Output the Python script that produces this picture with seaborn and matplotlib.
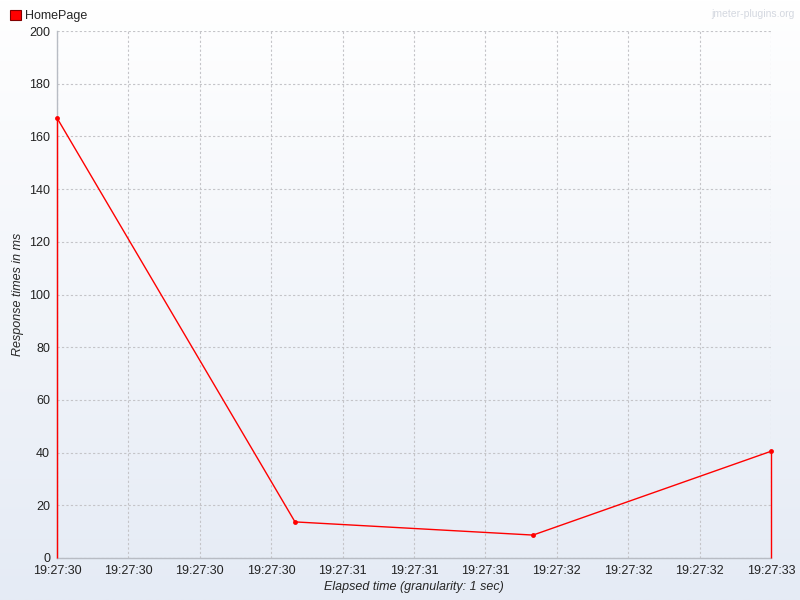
import numpy as np
import pandas as pd
import matplotlib
matplotlib.use('Agg')
import matplotlib.pyplot as plt
import seaborn as sns
from matplotlib.patches import Patch

# dane
seconds = [0, 1, 2, 3]
response_ms = [167, 13.7, 8.7, 40.5]
tick_pos = [0.0, 0.3, 0.6, 0.9, 1.2, 1.5, 1.8, 2.1, 2.4, 2.7, 3.0]
tick_labels = ['19:27:30', '19:27:30', '19:27:30', '19:27:30', '19:27:31', '19:27:31',
               '19:27:31', '19:27:32', '19:27:32', '19:27:32', '19:27:33']
label = 'HomePage'

df = pd.DataFrame({'t': seconds, 'ms': response_ms, 'label': label})

sns.set_style('white')
plt.rcParams['font.family'] = ['Liberation Sans', 'DejaVu Sans']
plt.rcParams['font.size'] = 9

fig = plt.figure(figsize=(8, 6), dpi=100)

# tlo z gradientem
bg = fig.add_axes([0, 0, 1, 1], zorder=-10)
grad = np.linspace(0, 1, 256).reshape(-1, 1)
top = np.array([1.0, 1.0, 1.0])
bottom = np.array([229, 235, 245]) / 255
img = top + (bottom - top) * grad[..., None]
bg.imshow(img, aspect='auto', extent=[0, 1, 0, 1])
bg.axis('off')

ax = fig.add_axes([0.07125, 0.07, 0.8925, 0.87833])
ax.patch.set_alpha(0)

sns.lineplot(data=df, x='t', y='ms', ax=ax, color='#ff0000', lw=1,
             marker='o', markersize=3.5, markeredgewidth=0, legend=False, clip_on=False, zorder=5)
# linie od osi do pierwszego i ostatniego punktu
ax.vlines([seconds[0], seconds[-1]], 0, [response_ms[0], response_ms[-1]], color='#ff0000', lw=1,
          clip_on=False, zorder=5)

ax.set_xlim(0, 3)
ax.set_ylim(0, 200)
ax.set_yticks(range(0, 201, 20))
ax.set_xticks(tick_pos)
ax.set_xticklabels(tick_labels)
ax.grid(True, color='#c4c4c8', ls=(0, (2, 2)), lw=0.8)
for s in ['top', 'right']:
    ax.spines[s].set_visible(False)
for s in ['left', 'bottom']:
    ax.spines[s].set_color('#b8bcc4')
    ax.spines[s].set_linewidth(1)
ax.tick_params(length=3, color='#b8bcc4', labelcolor='#222222', labelsize=9, pad=2)
ax.set_xlabel('Elapsed time (granularity: 1 sec)', style='italic', fontsize=9, labelpad=3)
ax.set_ylabel('Response times in ms', style='italic', fontsize=9, labelpad=3.5)

fig.legend(handles=[Patch(facecolor='#ff0000', edgecolor='#800000', lw=0.8, label=label)],
           loc='upper left', bbox_to_anchor=(0.0, 1.0), frameon=False, fontsize=9,
           handlelength=0.9, handleheight=0.9, handletextpad=0.3, borderaxespad=0.4)
fig.text(0.993, 0.985, 'jmeter-plugins.org', ha='right', va='top', fontsize=7.5, color='#d4d8e0')

fig.savefig('out.png', dpi=100)
